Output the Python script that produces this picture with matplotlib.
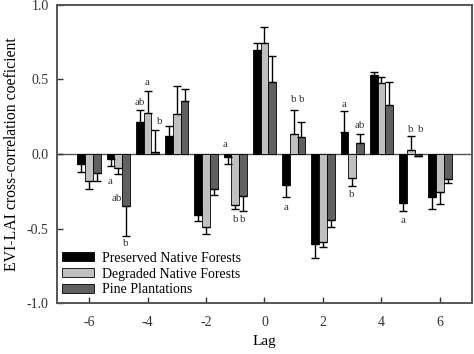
import matplotlib
matplotlib.use("Agg")
import matplotlib.pyplot as plt
import numpy as np

plt.rcParams['font.family'] = ['Liberation Serif', 'DejaVu Serif']
plt.rcParams['axes.unicode_minus'] = False

lags = [-6, -5, -4, -3, -2, -1, 0, 1, 2, 3, 4, 5, 6]
series_names = ["Preserved Native Forests", "Degraded Native Forests", "Pine Plantations"]
preserved = [-0.064, -0.032, 0.218, 0.124, -0.41, -0.02, 0.697, -0.21, -0.607, 0.149, 0.527, -0.328, -0.29]
preserved_err = [0.056, 0.05, 0.076, 0.066, 0.04, 0.05, 0.049, 0.08, 0.09, 0.138, 0.022, 0.056, 0.078]
degraded = [-0.178, -0.097, 0.276, 0.27, -0.489, -0.339, 0.742, 0.136, -0.592, -0.16, 0.478, 0.028, -0.254]
degraded_err = [0.056, 0.034, 0.15, 0.185, 0.051, 0.033, 0.112, 0.161, 0.031, 0.056, 0.037, 0.092, 0.08]
pine = [-0.126, -0.35, 0.015, 0.354, -0.234, -0.283, 0.482, 0.117, -0.44, 0.075, 0.328, -0.015, -0.171]
pine_err = [0.052, 0.197, 0.147, 0.079, 0.044, 0.101, 0.174, 0.101, 0.05, 0.058, 0.154, 0.0, 0.022]

# significance letters: (lag, series index, letter, signed pixel offset, x pixel shift)
letters = [
    (-5, 0, "a", -15, 0), (-5, 1, "ab", -25, -1), (-5, 2, "b", -8, 0),
    (-4, 0, "ab", 8, 0), (-4, 1, "a", 8, 0), (-4, 2, "b", 8, 4),
    (-1, 0, "a", 9, -2), (-1, 1, "b", -10, 0), (-1, 2, "b", -8, 0),
    (1, 0, "a", -10, 0), (1, 1, "b", 10, 0), (1, 2, "b", 22, 0),
    (3, 0, "a", 7, 0), (3, 1, "b", -8, 0), (3, 2, "ab", 9, 0),
    (5, 0, "a", -9, 0), (5, 1, "b", 7, 0), (5, 2, "b", 24, 2),
]

colors = ["#000000", "#c0c0c0", "#606060"]
vals = [preserved, degraded, pine]
errs = [preserved_err, degraded_err, pine_err]

fig = plt.figure(figsize=(4.74, 3.54), dpi=100)
ax = fig.add_axes([0.12, 0.144, 0.876, 0.842])

width = 0.265
offsets = [-width, 0, width]
x = np.array(lags, dtype=float)
for i in range(3):
    v = np.array(vals[i])
    e = np.array(errs[i])
    xs = x + offsets[i]
    ax.bar(xs, v, width=width, color=colors[i], edgecolor="black", linewidth=0.6,
           label=series_names[i], zorder=2)
    lower = np.where(v < 0, e, 0)
    upper = np.where(v >= 0, e, 0)
    ax.errorbar(xs, v, yerr=[lower, upper], fmt="none", ecolor="black",
                elinewidth=1.0, capsize=2.8, capthick=1.0, zorder=3)

for lag, si, txt, off, dx in letters:
    idx = lags.index(lag)
    v = vals[si][idx]
    e = errs[si][idx]
    if v >= 0 and off > 0:
        anchor = v + e
    elif v < 0 and off < 0:
        anchor = v - e
    else:
        anchor = 0.0
    ax.annotate(txt, (lag + offsets[si], anchor), xytext=(dx, off), textcoords="offset pixels",
                ha="center", va="center", fontsize=7.8, color="#333333")

ax.axhline(0, color="#555555", linewidth=1.0, zorder=1)
ax.set_xlim(-7.1, 7.1)
ax.set_ylim(-1.0, 1.0)
ax.set_xticks([-6, -4, -2, 0, 2, 4, 6])
ax.set_yticks([-1.0, -0.5, 0.0, 0.5, 1.0])
ax.set_yticklabels(["-1.0", "-0.5", "0.0", "0.5", "1.0"])
ax.tick_params(direction="in", length=4, width=1.0, labelsize=10, colors="#333333", pad=6)
ax.tick_params(axis="x", pad=9)
for s in ax.spines.values():
    s.set_color("#555555")
    s.set_linewidth(1.4)

ax.set_xlabel("Lag", fontsize=11, labelpad=5)
ax.set_ylabel("EVI-LAI cross-correlation coeficient", fontsize=11.3, labelpad=5)

leg = ax.legend(loc="lower left", bbox_to_anchor=(-0.012, -0.01), frameon=False, fontsize=10,
                handlelength=2.3, handleheight=0.65, labelspacing=0.2, handletextpad=0.6,
                borderaxespad=0.3)

fig.savefig("out.png", dpi=100)
